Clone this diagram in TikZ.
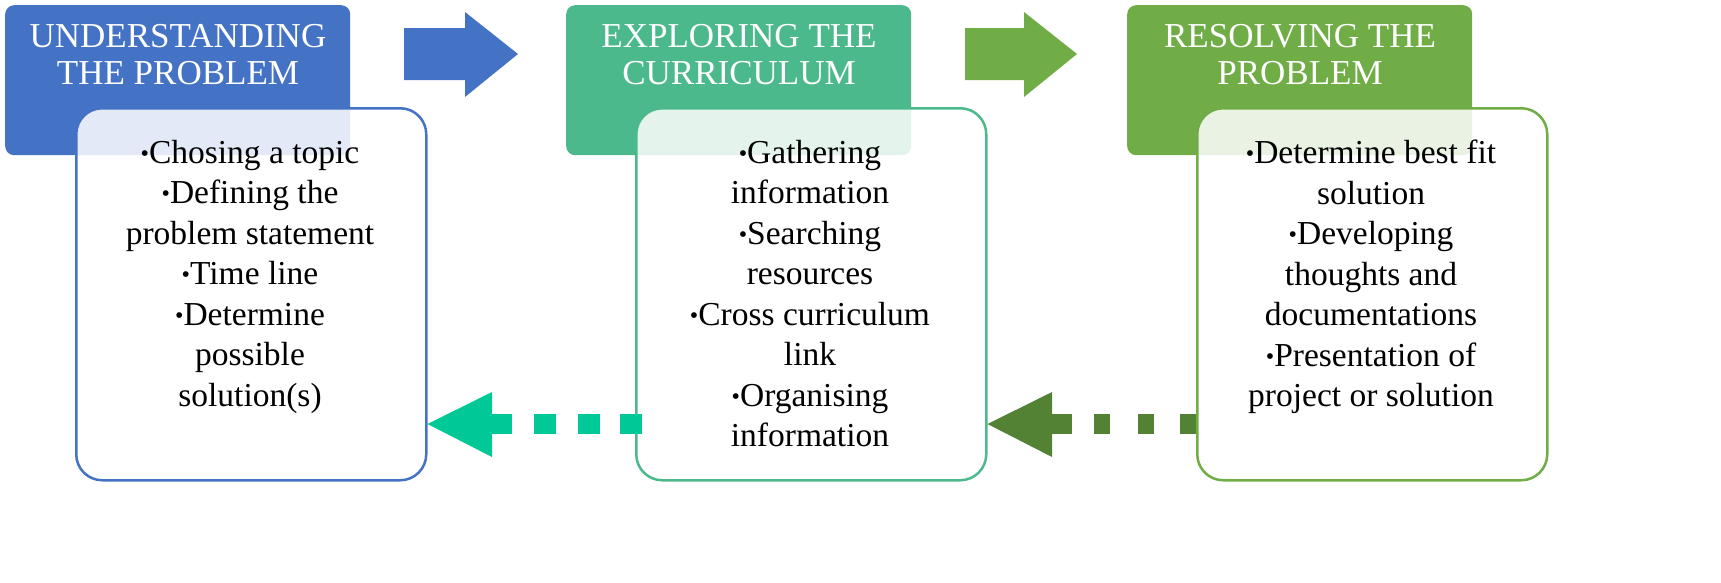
\documentclass[tikz,border=0pt]{standalone}
\usepackage{fontspec}
\setmainfont{Liberation Serif}
\definecolor{cA}{HTML}{4472C4}
\definecolor{cB}{HTML}{4CB98C}
\definecolor{cC}{HTML}{70AD47}
\definecolor{dB}{HTML}{00C896}
\definecolor{dC}{HTML}{548235}
\begin{document}
\begin{tikzpicture}[x=1pt,y=-1pt,
  head/.style={fill=#1,rounded corners=9pt,minimum width=345pt,minimum height=150pt,anchor=north west,inner sep=0pt},
  htext/.style={text=white,font=\fontsize{35}{37}\selectfont,align=center,anchor=north,inner sep=0pt},
  body/.style={draw=#1,line width=2.5pt,fill=white,fill opacity=0.85,text opacity=1,rounded corners=26pt,minimum width=350pt,minimum height=372pt,anchor=north west,inner sep=0pt},
  btext/.style={font=\fontsize{33.5}{40.5}\selectfont,align=center,anchor=north,inner sep=0pt}]
\useasboundingbox (0,0) rectangle (1721,582);
\newcommand{\bu}{{\fontsize{24}{24}\selectfont\raisebox{2pt}{\textbullet}}}
% group 1
\node[head=cA] (h1) at (5,5) {};
\node[htext] (t1) at (178,24) {UNDERSTANDING\\THE PROBLEM};
\node[body=cA] (b1) at (75,107) {};
\node[btext] (x1) at (250,140) {\bu Chosing a topic\\\bu Defining the\\problem statement\\\bu Time line\\\bu Determine\\possible\\solution(s)};
% group 2
\node[head=cB] (h2) at (566,5) {};
\node[htext] (t2) at (739,24) {EXPLORING THE\\CURRICULUM};
\node[body=cB] (b2) at (635,107) {};
\node[btext] (x2) at (810,140) {\bu Gathering\\information\\\bu Searching\\resources\\\bu Cross curriculum\\link\\\bu Organising\\information};
% group 3
\node[head=cC] (h3) at (1127,5) {};
\node[htext] (t3) at (1300,24) {RESOLVING THE\\PROBLEM};
\node[body=cC] (b3) at (1196,107) {};
\node[btext] (x3) at (1371,140) {\bu Determine best fit\\solution\\\bu Developing\\thoughts and\\documentations\\\bu Presentation of\\project or solution};
% forward arrows
\fill[cA] (404,28) -- (465,28) -- (465,12) -- (518,54) -- (465,97) -- (465,80) -- (404,80) -- cycle;
\fill[cC] (965,28) -- (1024,28) -- (1024,12) -- (1077,54) -- (1024,97) -- (1024,80) -- (965,80) -- cycle;
% back dashed arrows
\coordinate (e1) at (b1.east |- 0,424);
\coordinate (e2) at (b2.east |- 0,424);
\fill[dB] (e1) -- (492,392) -- (492,457) -- cycle;
\fill[dB] (492,414) rectangle (512,434);
\foreach \s in {534,578,620} \fill[dB] (\s,414) rectangle (\s+22,434);
\fill[dC] (e2) -- (1052,392) -- (1052,457) -- cycle;
\fill[dC] (1052,414) rectangle (1072,434);
\foreach \s in {1094,1138,1180} \fill[dC] (\s,414) rectangle (\s+16,434);
\end{tikzpicture}
\end{document}
